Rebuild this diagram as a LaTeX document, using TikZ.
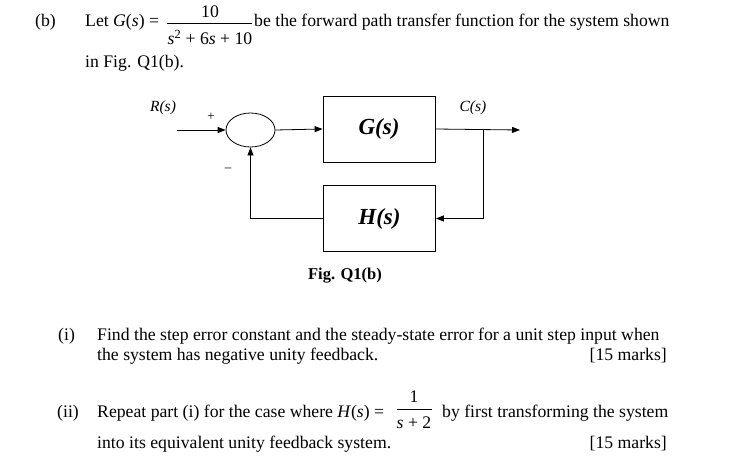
\documentclass[tikz,border=0pt]{standalone}
\usepackage{fontspec}
\setmainfont{Liberation Serif}
\usetikzlibrary{arrows.meta,shapes.geometric}
\begin{document}
\begin{tikzpicture}[x=1pt,y=-1pt,
  txt/.style={inner sep=0pt,font=\fontsize{17.7}{20}\selectfont},
  blk/.style={draw,line width=0.8pt,minimum width=112pt,minimum height=66pt,inner sep=0pt,font=\fontsize{23}{25}\selectfont\bfseries\itshape},
  lbl/.style={inner sep=0pt,font=\fontsize{15.5}{17}\selectfont\itshape},
  ln/.style={line width=0.8pt},
  arr/.style={ln,-{Triangle[length=8pt,width=6pt]}}]
\useasboundingbox (0,0) rectangle (729,471);
% question text
\node[txt,anchor=base west] (b) at (35,27) {(b)};
\node[txt,anchor=base west] (let) at (85,27) {Let \textit{G}(\textit{s}) =};
\node[txt,anchor=base] (num1) at (210,17) {10};
\draw[line width=0.6pt] (167,23) -- (252,23);
\node[txt,anchor=base] (den1) at (210,45) {\textit{s}\textsuperscript{2} + 6\textit{s} + 10};
\node[txt,anchor=base west] (fw) at (254,27) {be the forward path transfer function for the system shown};
\node[txt,anchor=base west] (infig) at (85,67) {in Fig. Q1(b).};
% diagram
\node[draw,ln,ellipse,minimum width=49pt,minimum height=34pt,inner sep=0pt] (sum) at (250.5,130) {};
\node[blk] (G) at (379,129) {G(s)};
\node[blk] (H) at (379.5,218.5) {H(s)};
\coordinate (in) at (177,130);
\coordinate (out) at (520,130);
\coordinate (br) at (483,130);
\draw[arr] (in) -- (sum.west);
\draw[arr] (sum.east) -- (G.west);
\draw[arr] (G.east) -- (out);
\draw[arr] (br) |- (H.east);
\draw[arr] (H.west) -| (sum.south);
\node[lbl,anchor=base] (R) at (163,111) {R(s)};
\node[lbl,anchor=base] (C) at (473,111) {C(s)};
\node[inner sep=0pt,font=\fontsize{13}{15}\selectfont] (plus) at (211,117) {+};
\node[inner sep=0pt,font=\fontsize{13}{15}\selectfont] (minus) at (228,170) {--};
\node[inner sep=0pt,anchor=base,font=\fontsize{16.5}{18}\selectfont\bfseries] (fig) at (345,279) {Fig. Q1(b)};
% parts
\node[txt,anchor=base west] (i) at (58,340) {(i)};
\node[txt,anchor=base west] (i1) at (97,340) {Find the step error constant and the steady-state error for a unit step input when};
\node[txt,anchor=base west] (i2) at (97,360) {the system has negative unity feedback.};
\node[txt,anchor=base east] (m1) at (667,360) {[15 marks]};
\node[txt,anchor=base west] (ii) at (57,417) {(ii)};
\node[txt,anchor=base west] (ii1) at (97,417) {Repeat part (i) for the case where \textit{H}(\textit{s}) =};
\node[txt,anchor=base] (num2) at (414,402) {1};
\draw[line width=0.6pt] (397,409) -- (432,409);
\node[txt,anchor=base] (den2) at (414,428) {\textit{s} + 2};
\node[txt,anchor=base west] (ii2) at (442,417) {by first transforming the system};
\node[txt,anchor=base west] (ii3) at (97,448) {into its equivalent unity feedback system.};
\node[txt,anchor=base east] (m2) at (667,448) {[15 marks]};
\end{tikzpicture}
\end{document}
